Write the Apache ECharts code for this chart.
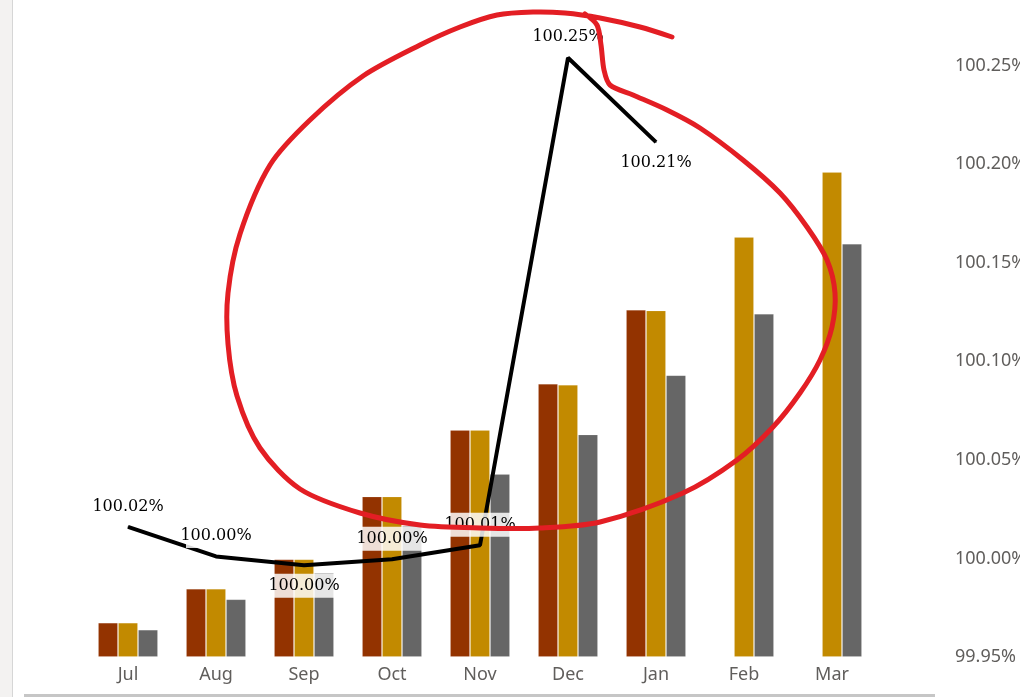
<!DOCTYPE html>
<html>
<head>
<meta charset="utf-8">
<script src="https://cdn.jsdelivr.net/npm/echarts@6/dist/echarts.min.js"></script>
<style>
    html, body { margin: 0; padding: 0; background: #fff; }
    #main { width: 1020px; height: 697px; }
</style>
</head>
<body>
<div id="main"></div>
<script>
    var months = ['Jul', 'Aug', 'Sep', 'Oct', 'Nov', 'Dec', 'Jan', 'Feb', 'Mar'];
    // bar heights (hidden left axis)
    var barRed = [34.3, 68.3, 97.7, 160.3, 227, 273, 347, null, null];
    var barGold = [34.3, 68.3, 97.7, 160.3, 227, 272, 346.3, 419.7, 484.7];
    var barGray = [27.3, 57.7, 84, 131, 183, 222.3, 281.7, 343, 413];
    // ratio line, right axis (%)
    var ratio = [100.016, 100.001, 99.9966, 99.9996, 100.0067, 100.254, 100.2112, null, null];
    var labelBelow = ['Sep', 'Jan'];

    // freehand red ring drawn over the chart
    var ring = [
        [585, 14], [597, 25], [601, 45], [604, 70], [610, 85], [633, 95], [667, 110], [700, 128],
        [743, 160], [780, 193], [807, 227], [827, 260], [835, 293], [832, 327], [820, 360],
        [800, 393], [773, 427], [737, 460], [683, 493], [600, 522], [540, 528], [480, 528],
        [420, 525], [360, 513], [300, 489], [260, 448], [237, 396], [228, 344], [228, 293],
        [240, 234], [270, 165], [310, 120], [363, 76], [420, 45], [460, 27], [497, 15],
        [533, 12], [565, 13], [600, 18], [640, 27], [672, 37]
    ];

    var chart = echarts.init(document.getElementById('main'));

    var bar = function (data, color) {
        return {
            type: 'bar',
            data: data,
            barWidth: 20,
            barGap: '0%',
            yAxisIndex: 0,
            itemStyle: { color: color, borderColor: 'rgba(255,255,255,0.12)', borderWidth: 1 }
        };
    };

    var lineData = ratio.map(function (v, i) {
        var below = labelBelow.indexOf(months[i]) >= 0;
        return { value: v, label: { position: below ? 'bottom' : 'top' } };
    });

    var option = {
        animation: false,
        grid: { left: 84, right: 144, top: 65.7, bottom: 40, outerBoundsMode: 'none', containLabel: false },
        xAxis: {
            type: 'category',
            data: months,
            axisLine: { show: false },
            axisTick: { show: false },
            axisLabel: { color: '#605E5C', fontSize: 18, fontFamily: 'Noto Sans', margin: 9 }
        },
        yAxis: [
            { type: 'value', min: 0, max: 591, show: false },
            {
                type: 'value',
                position: 'right',
                min: 99.95,
                max: 100.25,
                interval: 0.05,
                splitLine: { show: false },
                axisLine: { show: false },
                axisTick: { show: false },
                axisLabel: {
                    color: '#605E5C', fontSize: 18, fontFamily: 'Noto Sans', margin: 79,
                    formatter: function (v) { return v.toFixed(2) + '%'; }
                }
            }
        ],
        series: [
            bar(barRed, '#933300'),
            bar(barGold, '#C28A00'),
            bar(barGray, '#666666'),
            {
                type: 'line',
                yAxisIndex: 1,
                data: lineData,
                clip: false,
                symbol: 'circle',
                symbolSize: 1,
                z: 5,
                itemStyle: { color: '#000' },
                lineStyle: { color: '#000', width: 4 },
                label: {
                    show: true,
                    distance: 8,
                    color: '#000',
                    fontFamily: 'DejaVu Serif',
                    fontSize: 16,
                    padding: [4, 0],
                    width: 60,
                    overflow: 'none',
                    align: 'center',
                    backgroundColor: 'rgba(255,255,255,0.84)',
                    formatter: function (p) { return p.value.toFixed(2) + '%'; }
                }
            }
        ],
        graphic: [
            { type: 'rect', shape: { x: 0, y: 0, width: 12, height: 697 }, style: { fill: '#F3F2F1' }, z: 1 },
            { type: 'rect', shape: { x: 12, y: 0, width: 1, height: 697 }, style: { fill: '#D6D6D6' }, z: 1 },
            { type: 'rect', shape: { x: 24, y: 694, width: 911, height: 3 }, style: { fill: '#C6C6C6' }, z: 1 },
            {
                type: 'polyline',
                z: 100,
                shape: { points: ring, smooth: 0.3 },
                style: { stroke: '#E31E24', lineWidth: 5, fill: null, lineCap: 'round', lineJoin: 'round' }
            }
        ]
    };

    chart.setOption(option);
</script>
</body>
</html>
